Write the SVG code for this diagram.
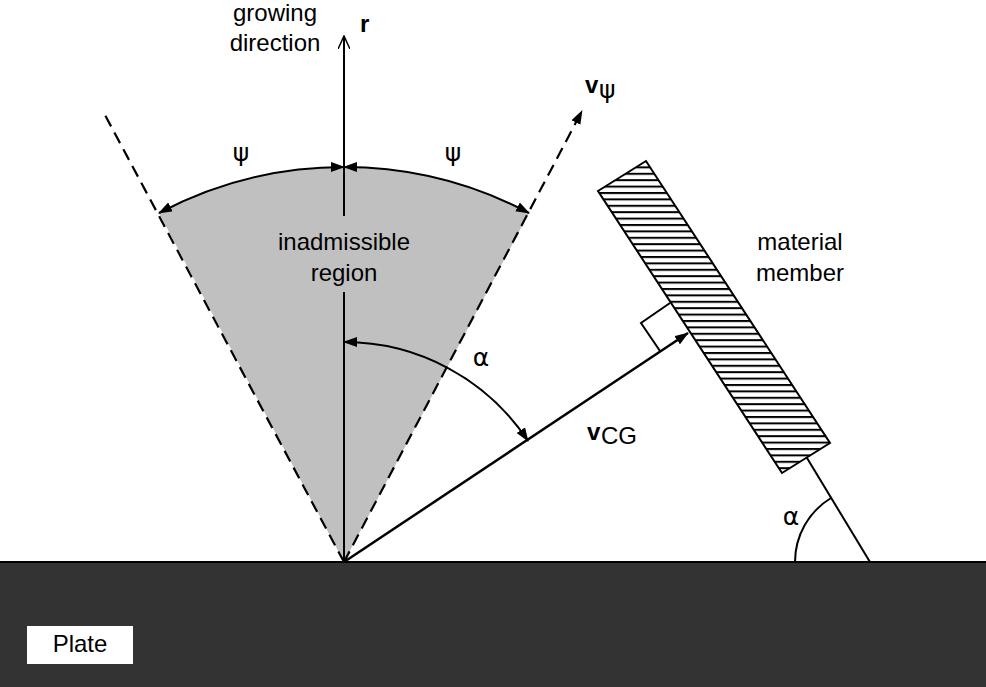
<svg xmlns="http://www.w3.org/2000/svg" width="986" height="687" viewBox="0 0 986 687">
<style>
.t{font-family:"Liberation Sans",Arial,sans-serif;font-size:24px;fill:#000}
.g{font-family:"DejaVu Sans",sans-serif;font-size:25px;fill:#000}
.ln{stroke:#000;stroke-width:2;fill:none}
.ds{stroke:#000;stroke-width:2.2;fill:none;stroke-dasharray:12 7}
</style>
<defs>
<marker id="ah" viewBox="0 0 14 10" refX="13" refY="5" markerWidth="14" markerHeight="10" markerUnits="userSpaceOnUse" orient="auto-start-reverse"><path d="M0,0L14,5L0,10z" fill="#000"/></marker>
<marker id="oa" viewBox="0 0 14 12" refX="13" refY="6" markerWidth="14" markerHeight="12" markerUnits="userSpaceOnUse" orient="auto"><path d="M0,0L13,6L0,12" fill="none" stroke="#000" stroke-width="1.5"/></marker>
<pattern id="hatch" width="10" height="6.4" patternUnits="userSpaceOnUse"><rect width="10" height="6.4" fill="#fff"/><rect y="0" width="10" height="2" fill="#000"/></pattern>
</defs>
<rect width="986" height="687" fill="#fff"/>
<g id="plate"><rect x="0" y="562" width="986" height="125" fill="#333"/><line x1="0" y1="562" x2="986" y2="562" stroke="#000" stroke-width="2"/><rect x="27" y="626" width="106" height="38" fill="#fff"/><text class="t" x="80" y="652" text-anchor="middle">Plate</text></g>
<g id="region"><path d="M344,562L159,213A395,395 0 0 1 529,213Z" fill="#c0c0c0"/><text class="t" x="344" y="250" text-anchor="middle">inadmissible</text><text class="t" x="344" y="281" text-anchor="middle">region</text></g>
<g id="member"><polygon points="598,191 646,161 830,443 782,473" fill="url(#hatch)" stroke="#000" stroke-width="2"/><text class="t" x="800" y="250" text-anchor="middle">material</text><text class="t" x="800" y="281" text-anchor="middle">member</text></g>
<g id="labels">
<text class="t" x="275" y="21" text-anchor="middle">growing</text><text class="t" x="275" y="51" text-anchor="middle">direction</text>
<text class="t" x="360" y="32" font-weight="bold">r</text>
<text class="t" x="585" y="93" font-weight="bold">v</text><text class="g" x="599" y="98" font-size="15">ψ</text>
<text class="g" x="241" y="161" text-anchor="middle">ψ</text><text class="g" x="453" y="161" text-anchor="middle">ψ</text>
<text class="g" x="481" y="366" text-anchor="middle">α</text>
<text class="g" x="791" y="525" text-anchor="middle">α</text>
<text class="t" x="587" y="440" font-weight="bold">v</text><text class="t" x="601" y="444" font-size="15">CG</text>
</g>
<g id="connectors">
<line class="ln" x1="344" y1="216" x2="344" y2="36" marker-end="url(#oa)"/>
<line class="ln" x1="344" y1="292" x2="344" y2="562"/>
<line class="ds" x1="344" y1="562" x2="105" y2="115"/>
<line class="ds" x1="344" y1="562" x2="582" y2="111" marker-end="url(#ah)"/>
<path class="ln" d="M159,213A395,395 0 0 1 344,167" marker-start="url(#ah)" marker-end="url(#ah)"/>
<path class="ln" d="M344,167A395,395 0 0 1 529,213" marker-start="url(#ah)" marker-end="url(#ah)"/>
<path class="ln" d="M344,342A220,220 0 0 1 528,441" marker-start="url(#ah)" marker-end="url(#ah)"/>
<line x1="344" y1="562" x2="688" y2="333" stroke="#000" stroke-width="2.5" marker-end="url(#ah)"/>
<polyline class="ln" stroke-width="1.5" points="670,303 641,323 660,351"/>
<line class="ln" stroke-width="1.5" x1="807" y1="458" x2="870" y2="562"/>
<path class="ln" stroke-width="1.5" d="M795,562A75,75 0 0 1 831,498"/>
</g>
</svg>
